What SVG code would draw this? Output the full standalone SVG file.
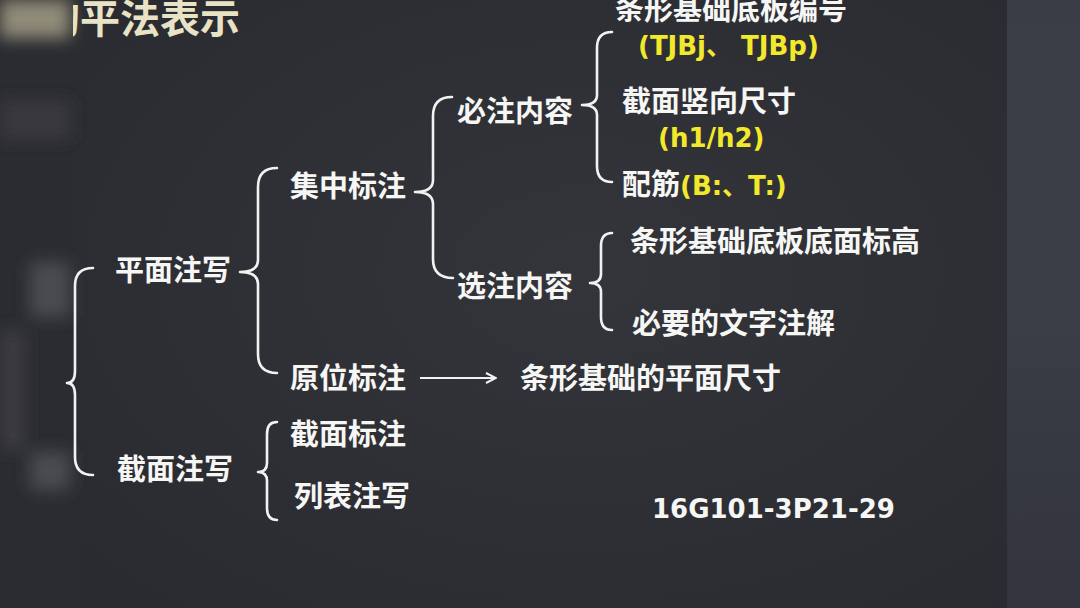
<svg xmlns="http://www.w3.org/2000/svg" width="1080" height="608" viewBox="0 0 1080 608">
<defs>
<style>
.cn{font-family:"Noto Sans CJK SC","Noto Sans",sans-serif;font-weight:700;font-size:29px;fill:#f6f6f4}
.lat{font-family:"DejaVu Sans","Noto Sans CJK SC",sans-serif;font-weight:700;font-size:26px}
.y{fill:#f3e92c}
.w{fill:#f6f6f4}
.br{fill:none;stroke:#f2f2f0;stroke-width:2.6;stroke-linecap:round;stroke-linejoin:round}
</style>
<radialGradient id="board" cx="0.55" cy="0.45" r="0.7">
<stop offset="0" stop-color="#34353a"/>
<stop offset="1" stop-color="#2a2b30"/>
</radialGradient>
<linearGradient id="rs" x1="0" y1="0" x2="0" y2="1">
<stop offset="0" stop-color="#3a3d45"/>
<stop offset="0.5" stop-color="#3b3e47"/>
<stop offset="1" stop-color="#33343d"/>
</linearGradient>
<filter id="blur" x="-50%" y="-50%" width="200%" height="200%"><feGaussianBlur stdDeviation="8"/></filter>
<marker id="arr" viewBox="0 0 12 12" refX="11" refY="6" markerWidth="12" markerHeight="12" markerUnits="userSpaceOnUse" orient="auto">
<path d="M1 1 L11 6 L1 11" fill="none" stroke="#f2f2f0" stroke-width="2"/>
</marker>
<clipPath id="boardclip"><rect x="73" y="0" width="934" height="608"/></clipPath>
</defs>
<rect x="0" y="0" width="1080" height="608" fill="#2b2c31"/>
<rect x="73" y="0" width="934" height="608" fill="url(#board)"/>
<rect x="1007" y="0" width="73" height="608" fill="url(#rs)"/>
<g filter="url(#blur)">
<rect x="0" y="0" width="70" height="38" fill="#8f8b78"/>
<rect x="0" y="100" width="70" height="40" fill="#37383d"/>
<rect x="30" y="262" width="40" height="55" fill="#4a4b50"/>
<rect x="0" y="330" width="25" height="120" fill="#3a3b40"/>
<rect x="30" y="452" width="40" height="38" fill="#4a4b50"/>
</g>
<g id="title" clip-path="url(#boardclip)">
<text x="40" y="33" style="font-family:'Noto Sans CJK SC',sans-serif;font-weight:700;font-size:40px;fill:#e9e3c5">的平法表示</text>
</g>
<g id="connectors">
<path class="br" d="M93 268 Q75 268 75 286 L75 371 Q75 383 67 383 Q75 383 75 395 L75 457 Q75 475 93 475"/>
<path class="br" d="M277 168 Q258 168 258 187 L258 260 Q258 272 240 272 Q258 272 258 284 L258 354 Q258 373 277 373"/>
<path class="br" d="M452 97 Q433 97 433 116 L433 180 Q433 192 415 192 Q433 192 433 204 L433 259 Q433 278 453 278"/>
<path class="br" d="M612 32 Q597 32 597 48 L597 95 Q597 105 582 105 Q597 105 597 115 L597 166 Q597 182 612 182"/>
<path class="br" d="M612 233 Q601 233 601 246 L601 274 Q601 283 590 283 Q601 283 601 292 L601 317 Q601 330 612 330"/>
<path class="br" d="M277 422 Q267 422 267 434 L267 463 Q267 472 258 472 Q267 472 267 481 L267 508 Q267 520 277 520"/>
<line x1="420" y1="378" x2="496" y2="378" stroke="#f2f2f0" stroke-width="2" marker-end="url(#arr)"/>
</g>
<g id="n-pingmian"><text class="cn" x="115" y="281">平面注写</text></g>
<g id="n-jiemian"><text class="cn" x="117" y="480">截面注写</text></g>
<g id="n-jizhong"><text class="cn" x="290" y="197">集中标注</text></g>
<g id="n-yuanwei"><text class="cn" x="290" y="389">原位标注</text></g>
<g id="n-jiemianbz"><text class="cn" x="290" y="445">截面标注</text></g>
<g id="n-liebiao"><text class="cn" x="294" y="507">列表注写</text></g>
<g id="n-bizhu"><text class="cn" x="457" y="122">必注内容</text></g>
<g id="n-xuanzhu"><text class="cn" x="457" y="297">选注内容</text></g>
<g id="n-bianhao">
<text class="cn" x="615" y="20">条形基础底板编号</text>
<text class="lat y" x="638" y="55">(TJBj、 TJBp)</text>
</g>
<g id="n-chicun">
<text class="cn" x="622" y="112">截面竖向尺寸</text>
<text class="lat y" x="658" y="147">(h1/h2)</text>
</g>
<g id="n-peijin">
<text class="cn" x="622" y="195">配筋<tspan class="lat y">(B:、T:)</tspan></text>
</g>
<g id="n-biaogao"><text class="cn" x="630" y="252">条形基础底板底面标高</text></g>
<g id="n-zhujie"><text class="cn" x="632" y="334">必要的文字注解</text></g>
<g id="n-pingmianchicun"><text class="cn" x="520" y="389">条形基础的平面尺寸</text></g>
<g id="n-ref"><text class="lat w" x="652" y="518">16G101-3P21-29</text></g>
</svg>
